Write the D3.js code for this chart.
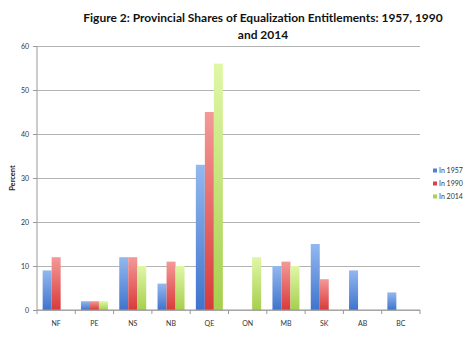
<!DOCTYPE html>
<html><head><meta charset="utf-8">
<script src="https://cdn.jsdelivr.net/npm/d3@7"></script>
<style>body{margin:0;background:#fff}svg{display:block}</style>
</head><body>
<script>
const categories = ["NF","PE","NS","NB","QE","ON","MB","SK","AB","BC"];
const seriesNames = ["In 1957","In 1990","In 2014"];
const v1957 = [9,2,12,6,33,0,10,15,9,4];
const v1990 = [12,2,12,11,45,0,11,7,0,0];
const v2014 = [0,2,10,10,56,12,10,0,0,0];
const yTicks = [0,10,20,30,40,50,60];
const series = [v1957, v1990, v2014];

const W = 474, H = 341;
const svg = d3.select("body").append("svg").attr("width", W).attr("height", H);
const defs = svg.append("defs");
const grads = [["#93b8f0","#3f74cc"],["#f39a98","#d93a3a"],["#e0f7a6","#a6cf4e"]];
grads.forEach((g,i)=>{
  const lg = defs.append("linearGradient").attr("id","g"+i).attr("x1",0).attr("y1",0).attr("x2",0).attr("y2",1);
  lg.append("stop").attr("offset","0%").attr("stop-color",g[0]);
  lg.append("stop").attr("offset","100%").attr("stop-color",g[1]);
});
const legendColors = ["#4f81d0","#d8434a","#a9d152"];

const x = d3.scaleBand().domain(categories).range([37, 420]).padding(0);
const y = d3.scaleLinear().domain([0,60]).range([310, 46]);
const xs = d3.scaleBand().domain([0,1,2]).range([0, 27]);

// gridlines
svg.append("g").selectAll("line").data(yTicks).join("line")
  .attr("x1", 37).attr("x2", 420).attr("y1", d=>y(d)).attr("y2", d=>y(d))
  .attr("stroke", "#b3b3b3").attr("stroke-width", 1).attr("shape-rendering","crispEdges");

// bars
categories.forEach((c,ci)=>{
  const off = x(c) + (x.bandwidth()-27)/2;
  series.forEach((s,si)=>{
    if (s[ci] > 0) {
      svg.append("rect")
        .attr("x", off + xs(si)).attr("width", xs.bandwidth())
        .attr("y", y(s[ci])).attr("height", y(0)-y(s[ci]))
        .attr("fill", `url(#g${si})`);
    }
  });
});

// y axis
const yAxis = d3.axisLeft(y).tickValues(yTicks).tickSize(4).tickPadding(4);
const gy = svg.append("g").attr("transform","translate(37,0)").call(yAxis);
gy.select(".domain").attr("stroke","#999").attr("d","M0,46V310");
gy.selectAll(".tick line").attr("stroke","#999");
gy.selectAll("text").attr("font-family","Lato, 'Open Sans', sans-serif").attr("font-size",7).attr("fill","#333");

// x axis
const xAxis = d3.axisBottom(x).tickSize(0).tickPadding(11);
const gx = svg.append("g").attr("transform","translate(0,310)").call(xAxis);
gx.select(".domain").attr("stroke","#999").attr("d","M37,0H420");
gx.selectAll("text").attr("font-family","Lato, 'Open Sans', sans-serif").attr("font-size",7).attr("fill","#333");
gx.selectAll("line.sep").data(categories.map(c=>x(c)).concat([420])).join("line")
  .attr("class","sep").attr("x1",d=>d).attr("x2",d=>d).attr("y1",0).attr("y2",4).attr("stroke","#999");

// y label
svg.append("text").attr("transform","translate(15,178) rotate(-90)")
  .attr("text-anchor","middle").attr("font-family","Lato, 'Open Sans', sans-serif")
  .attr("font-weight","bold").attr("font-size",7.5).attr("fill","#222").text("Percent");

// title
const t1 = svg.append("text").attr("x",263).attr("y",22).attr("text-anchor","middle")
  .attr("font-family","Lato, 'Open Sans', sans-serif").attr("font-weight","bold").attr("font-size",14).attr("fill","#111")
  .text("Figure 2: Provincial Shares of Equalization Entitlements: 1957, 1990");
const len = t1.node().getComputedTextLength();
const fs = len > 360 ? 14*360/len : 14;
t1.attr("font-size", fs);
svg.append("text").attr("x",263).attr("y",39).attr("text-anchor","middle")
  .attr("font-family","Lato, 'Open Sans', sans-serif").attr("font-weight","bold").attr("font-size",fs).attr("fill","#111")
  .text("and 2014");

// legend
const lg = svg.append("g");
seriesNames.forEach((n,i)=>{
  const yy = 173 + i*13;
  lg.append("rect").attr("x",433).attr("y",yy-4.5).attr("width",4).attr("height",4).attr("fill",legendColors[i]);
  lg.append("text").attr("x",439).attr("y",yy).attr("font-family","Lato, 'Open Sans', sans-serif")
    .attr("font-size",7).attr("fill","#333").text(n);
});
</script>
</body></html>
